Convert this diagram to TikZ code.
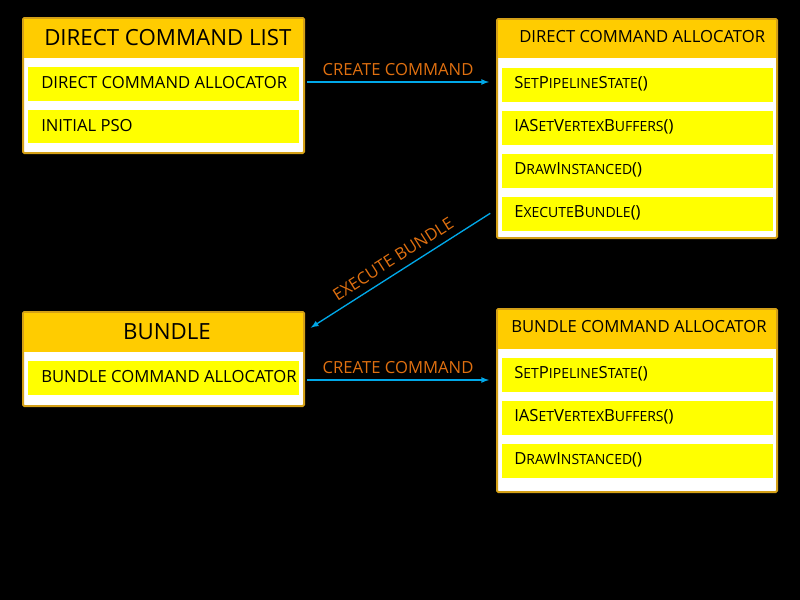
\documentclass[tikz,border=0pt]{standalone}
\usepackage{fontspec}
\setmainfont{Open Sans}
\usetikzlibrary{calc}
\definecolor{hdr}{HTML}{FFCC00}
\definecolor{rim}{HTML}{D4A017}
\definecolor{row}{HTML}{FFFF00}
\definecolor{lbl}{HTML}{E07010}
\definecolor{wire}{HTML}{00A8E8}
\newcommand{\smc}[1]{{\fontsize{10.5}{11}\selectfont #1}}
\tikzset{
  panel/.style={draw=rim,line width=1.5pt,fill=white,rounded corners=1pt},
  band/.style={fill=hdr},
  slot/.style={fill=row},
  txt/.style={anchor=west,inner sep=0pt,font=\fontsize{12.5}{14}\selectfont},
  link/.style={->,>=latex,draw=wire,line width=1pt,shorten <=6pt,shorten >=6pt},
  tag/.style={text=lbl,font=\fontsize{12.5}{14}\selectfont}
}
\begin{document}
\begin{tikzpicture}[x=0.75pt,y=-0.75pt]
\fill[black] (0,0) rectangle (800,600);

% direct command list
\draw[panel] (23,18) rectangle (304,153);
\fill[band] (24,19) rectangle (303,58);
\fill[slot] (28,67) rectangle (299,101);
\fill[slot] (28,110) rectangle (299,143);
\node[txt,font=\fontsize{16.7}{19}\selectfont] (dcl) at (44,38) {DIRECT COMMAND LIST};
\node[txt] (dclalloc) at (41,83) {DIRECT COMMAND ALLOCATOR};
\node[txt] (dclpso) at (41,126) {INITIAL PSO};
\coordinate (dclout) at (299,82);

% direct command allocator
\draw[panel] (497,19) rectangle (777,238);
\fill[band] (498,20) rectangle (776,58);
\fill[slot] (502,68) rectangle (773,102);
\fill[slot] (502,111) rectangle (773,145);
\fill[slot] (502,154) rectangle (773,188);
\fill[slot] (502,197) rectangle (773,231);
\node[txt] (dca) at (519,37) {DIRECT COMMAND ALLOCATOR};
\node[txt] (dcasps) at (514,84) {S\smc{ET}P\smc{IPELINE}S\smc{TATE}()};
\node[txt] (dcavb) at (514,127) {IAS\smc{ET}V\smc{ERTEX}B\smc{UFFERS}()};
\node[txt] (dcadraw) at (514,170) {D\smc{RAW}I\smc{NSTANCED}()};
\node[txt] (dcaexec) at (514,213) {E\smc{XECUTE}B\smc{UNDLE}()};
\coordinate (dcain) at (497,82);
\coordinate (dcaout) at (497,209);

% bundle
\draw[panel] (23,312) rectangle (304,406);
\fill[band] (24,313) rectangle (303,352);
\fill[slot] (28,361) rectangle (299,395);
\node[font=\fontsize{16.7}{19}\selectfont] (bun) at (167,332) {BUNDLE};
\node[txt] (bunalloc) at (41,377) {BUNDLE COMMAND ALLOCATOR};
\coordinate (bunout) at (299,380);
\coordinate (bunin) at (304,332);

% bundle command allocator
\draw[panel] (497,309) rectangle (777,492);
\fill[band] (498,310) rectangle (776,349);
\fill[slot] (502,358) rectangle (773,392);
\fill[slot] (502,401) rectangle (773,435);
\fill[slot] (502,444) rectangle (773,478);
\node[txt] (bca) at (511,327) {BUNDLE COMMAND ALLOCATOR};
\node[txt] (bcasps) at (514,374) {S\smc{ET}P\smc{IPELINE}S\smc{TATE}()};
\node[txt] (bcavb) at (514,417) {IAS\smc{ET}V\smc{ERTEX}B\smc{UFFERS}()};
\node[txt] (bcadraw) at (514,460) {D\smc{RAW}I\smc{NSTANCED}()};
\coordinate (bcain) at (497,380);

\draw[link] (dclout) -- node[tag,above=1pt] {CREATE COMMAND} (dcain);
\draw[link] (bunout) -- node[tag,above=1pt] {CREATE COMMAND} (bcain);
\draw[link] (dcaout) -- node[tag,above=2pt,sloped] {EXECUTE BUNDLE} (bunin);
\end{tikzpicture}
\end{document}
